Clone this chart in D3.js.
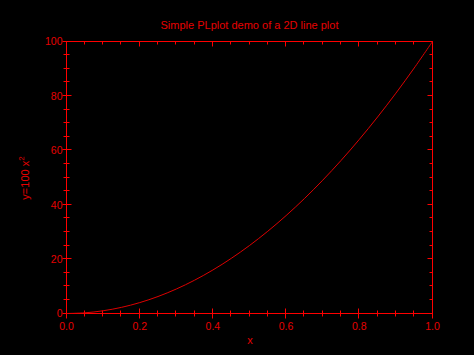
<!DOCTYPE html>
<html><head><meta charset="utf-8">
<script src="https://cdn.jsdelivr.net/npm/d3@7"></script>
<style>html,body{margin:0;padding:0;background:#000;}svg{display:block;}</style>
</head><body>
<script>
const xValues = [0, 0.05, 0.1, 0.15, 0.2, 0.25, 0.3, 0.35, 0.4, 0.45, 0.5, 0.55, 0.6, 0.65, 0.7, 0.75, 0.8, 0.85, 0.9, 0.95, 1.0];
const yValues = [0, 0.25, 1, 2.25, 4, 6.25, 9, 12.25, 16, 20.25, 25, 30.25, 36, 42.25, 49, 56.25, 64, 72.25, 81, 90.25, 100];
const xTickLabels = ["0.0", "0.2", "0.4", "0.6", "0.8", "1.0"];
const yTickLabels = ["0", "20", "40", "60", "80", "100"];
const xMinorTicks = [0.05,0.1,0.15,0.25,0.3,0.35,0.45,0.5,0.55,0.65,0.7,0.75,0.85,0.9,0.95];
const yMinorTicks = [5,10,15,25,30,35,45,50,55,65,70,75,85,90,95];
const titleText = "Simple PLplot demo of a 2D line plot";
const xLabel = "x";

const W = 474, H = 355;
const red = "#ff0000";
const textRed = "#e60000";
const font = "'Liberation Sans', Arial, sans-serif";
const L = 66.5, R = 432.5, T = 41.5, B = 313.5;

const svg = d3.select("body").append("svg").attr("width", W).attr("height", H);
svg.append("rect").attr("width", W).attr("height", H).attr("fill", "#000");

const x = d3.scaleLinear().domain([0, 1]).range([L, R]);
const y = d3.scaleLinear().domain([0, 100]).range([B, T]);

const g = svg.append("g");
// frame
g.append("rect").attr("x", L).attr("y", T).attr("width", R - L).attr("height", B - T)
  .attr("fill", "none").attr("stroke", red).attr("stroke-width", 1);

const xMajor = xTickLabels.map(Number);
const yMajor = yTickLabels.map(Number);
const line = (x1, y1, x2, y2) => g.append("line").attr("x1", x1).attr("y1", y1).attr("x2", x2).attr("y2", y2)
  .attr("stroke", red).attr("stroke-width", 1);

// bottom & top ticks
xMajor.forEach(v => { const px = Math.round(x(v)) + 0.5 - 1; line(px, B - 5, px, B + 5); line(px, T, px, T + 5); });
xMinorTicks.forEach(v => { const px = Math.round(x(v)) - 0.5; line(px, B - 3, px, B + 3); line(px, T, px, T + 3); });
// left & right ticks
yMajor.forEach(v => { const py = Math.round(y(v)) - 0.5; line(L - 4, py, L + 5, py); line(R - 5, py, R, py); });
yMinorTicks.forEach(v => { const py = Math.round(y(v)) - 0.5; line(L - 3, py, L + 3, py); line(R - 3, py, R, py); });

// tick labels
g.selectAll(".xl").data(xTickLabels).enter().append("text")
  .attr("x", d => x(+d)).attr("y", 330).attr("text-anchor", "middle")
  .attr("font-family", font).attr("font-size", 10.5).attr("fill", textRed).text(d => d);
g.selectAll(".yl").data(yTickLabels).enter().append("text")
  .attr("x", 62.5).attr("y", d => y(+d) + 3.8).attr("text-anchor", "end")
  .attr("font-family", font).attr("font-size", 10.5).attr("fill", textRed).text(d => d);

// title
svg.append("text").attr("x", 249.5).attr("y", 28.5).attr("text-anchor", "middle")
  .attr("font-family", font).attr("font-size", 11).attr("fill", textRed).text(titleText);
// x label
svg.append("text").attr("x", 250).attr("y", 344).attr("text-anchor", "middle")
  .attr("font-family", font).attr("font-size", 11).attr("fill", textRed).text(xLabel);
// y label
const yl = svg.append("text").attr("transform", "translate(29,178) rotate(-90)").attr("text-anchor", "middle")
  .attr("font-family", font).attr("font-size", 11).attr("fill", textRed);
yl.append("tspan").text("y=100 x");
yl.append("tspan").attr("dy", -5).attr("font-size", 8).text("2");

// curve
const lineGen = d3.line().x((d, i) => x(xValues[i])).y(d => y(d)).curve(d3.curveCatmullRom);
svg.append("path").attr("d", lineGen(yValues)).attr("fill", "none").attr("stroke", "#dd0000").attr("stroke-width", 1);
</script>
</body></html>
